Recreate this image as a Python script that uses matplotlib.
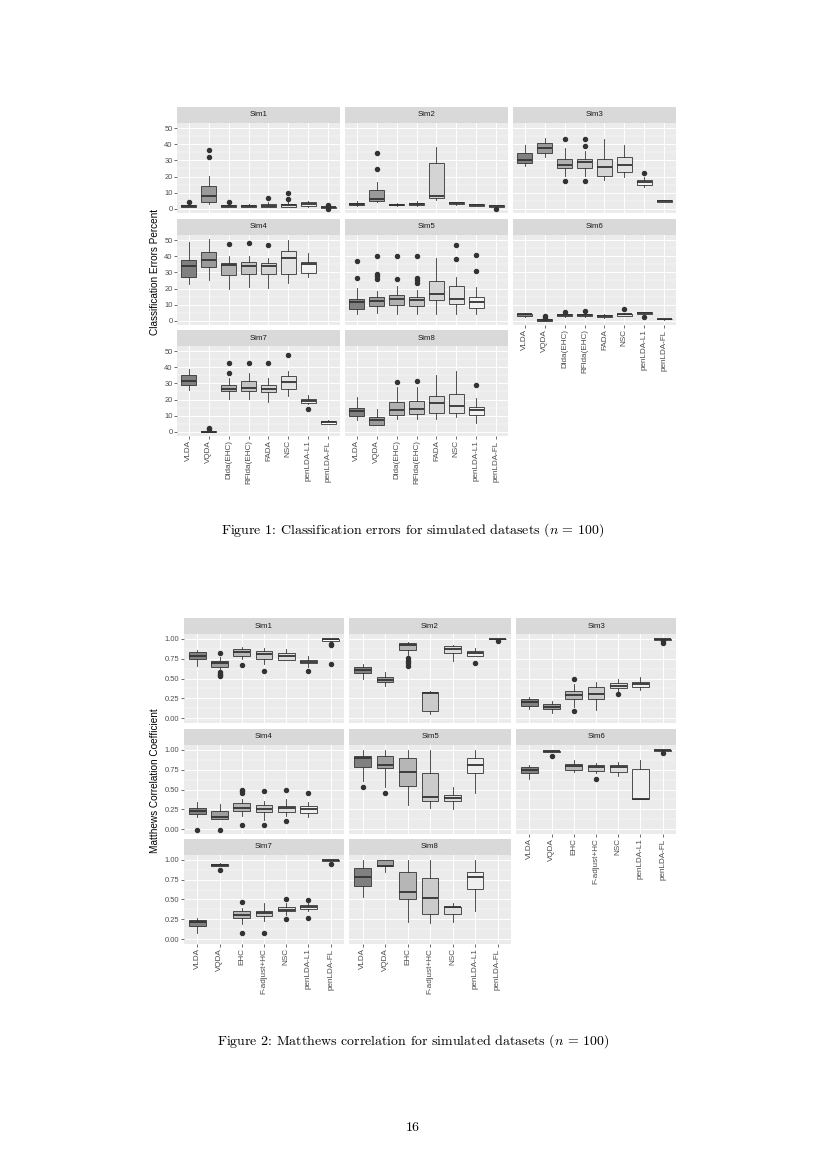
import matplotlib
matplotlib.use("Agg")
import matplotlib.pyplot as plt
import numpy as np

W, H = 827, 1169

# ---- Figure 1: classification errors (percent) ----
methods_err = ["VLDA", "VQDA", "Dlda(EHC)", "RFlda(EHC)", "FADA", "NSC", "penLDA-L1", "penLDA-FL"]

# (whisker low, q1, median, q3, whisker high) per method; None = not run
err_sim1 = [(1, 1.3, 2, 2.5, 3.5), (3.1, 4.2, 7.7, 14, 20.2), (1, 1.2, 1.6, 2.3, 3.2), (1, 1.2, 1.8, 2.3, 3.2),
            (1, 1.2, 2, 3, 4), (1, 1.3, 2.3, 3.1, 4.5), (1, 1.9, 3, 4, 4.8), (0.4, 0.5, 1, 1.4, 1.6)]
err_sim1_out = [[4.5], [32.3, 36.3], [4.6], [], [6.7], [6, 9.8], [], [0.0, 2.2]]
err_sim2 = [(2, 2.3, 3, 3.5, 5), (4.4, 5, 6.2, 11.5, 16.5), (2, 2.2, 2.7, 3.3, 3.8), (2, 2.2, 2.8, 3.4, 5.2),
            (5.6, 6.7, 8.3, 28.5, 38.5), (2.5, 2.8, 3.5, 4.2, 4.6), (1.8, 2.0, 2.5, 3.0, 3.2), (1.2, 1.5, 2, 2.3, 2.5)]
err_sim2_out = [[], [24.6, 34.6], [], [], [], [], [], [0.2]]
err_sim3 = [(26.5, 28.6, 30, 34.8, 39.6), (32.3, 34.8, 37.5, 40.8, 43.7), (20.2, 25, 27.3, 30.6, 37.7),
            (20.2, 25, 29, 30.6, 36), (17.7, 20.4, 25.8, 31, 43.5), (20, 23, 27.3, 32, 39.4),
            (13.5, 14.8, 16.7, 18.1, 20), (4.2, 4.5, 5, 5.5, 5.8)]
err_sim3_out = [[], [], [43.3, 17.5], [43.3, 39, 17.5], [], [], [22.5], []]
err_sim4 = [(22.7, 26.9, 33.75, 37.5, 48.75), (25.4, 33.3, 37.9, 42.5, 50.8), (19.6, 28.5, 34.4, 35.8, 40),
            (21.25, 29.2, 33.75, 36.5, 40), (20.2, 29.2, 34.2, 35.8, 39), (23.75, 29.2, 39, 43.5, 49.8),
            (27, 29.6, 35.2, 36.25, 42), None]
err_sim4_out = [[], [], [47.3], [47.9], [46.7], [], [], []]
err_sim5 = [(4, 7.3, 11.5, 13.3, 20.2), (5, 9.2, 12.5, 14.6, 18.5), (4.2, 9.6, 13.5, 16, 21.7),
            (4.2, 9.4, 12.7, 15, 19.2), (4.2, 12.9, 16.7, 24.4, 39), (4.2, 10.2, 13.5, 21.7, 26.9),
            (4.2, 7.7, 11.9, 15, 20.8), None]
err_sim5_out = [[26.25, 37.3], [26, 28, 29.2, 40], [26, 40], [23.75, 25, 26.7, 40.4], [], [38.3, 46.9],
                [30.6, 40.6], []]
err_sim6 = [(2.7, 3.2, 4, 4.6, 5), (0, 0.2, 0.5, 1.2, 1.5), (2.4, 2.8, 3.5, 4.0, 4.5), (2.4, 2.8, 3.5, 4.0, 4.6),
            (2.1, 2.4, 3.1, 3.8, 4.2), (2.8, 3.1, 4, 4.6, 5.2), (3.9, 4.3, 5.1, 5.3, 5.6), (0.8, 0.9, 1.1, 1.4, 1.5)]
err_sim6_out = [[], [1.8, 2.9], [5.4], [6.25], [], [7.5], [2.5], []]
err_sim7 = [(26, 29.2, 31.7, 35, 39), (0, 0, 0.2, 0.8, 1.2), (20.2, 25, 26.7, 29.2, 33.3),
            (20.2, 25, 27.1, 31.7, 36.5), (18.75, 24.4, 26.7, 29.2, 33.3), (22.5, 26.7, 30.8, 34.8, 37.5),
            (17.3, 17.9, 19.2, 20.4, 23.1), (4.8, 5.2, 6, 6.7, 7.3)]
err_sim7_out = [[], [1.9, 2.5], [36.5, 42.3], [42.3], [42.3], [47.5], [14.4], []]
err_sim8 = [(7.3, 10, 12.9, 14.6, 21.5), (4, 4.4, 7.1, 9.2, 14), (7.7, 10.6, 13.75, 18.5, 27.5),
            (7.9, 11.25, 14.2, 19, 27.5), (8.3, 11.7, 17.7, 22.3, 35), (9, 11.9, 16, 23.5, 37.5),
            (5.6, 10.6, 13.5, 15.6, 20.8), None]
err_sim8_out = [[], [], [31], [31.7], [], [], [29.2], []]

# ---- Figure 2: Matthews correlation coefficient ----
methods_mcc = ["VLDA", "VQDA", "EHC", "F-adjust+HC", "NSC", "penLDA-L1", "penLDA-FL"]

mcc_sim1 = [(0.66, 0.75, 0.79, 0.83, 0.865), (0.62, 0.65, 0.69, 0.72, 0.77), (0.75, 0.78, 0.83, 0.87, 0.9),
            (0.68, 0.75, 0.81, 0.85, 0.89), (0.73, 0.74, 0.79, 0.82, 0.87), (0.64, 0.69, 0.715, 0.74, 0.79),
            (0.95, 0.98, 0.995, 1.0, 1.0)]
mcc_sim1_out = [[], [0.82, 0.58, 0.56, 0.54, 0.53], [0.665], [0.6], [], [0.6], [0.94, 0.92, 0.68]]
mcc_sim2 = [(0.5, 0.57, 0.61, 0.65, 0.68), (0.4, 0.45, 0.485, 0.515, 0.58), (0.8, 0.86, 0.92, 0.95, 0.96),
            (0.05, 0.09, 0.32, 0.335, 0.345), (0.72, 0.82, 0.87, 0.91, 0.93), (0.78, 0.79, 0.82, 0.85, 0.89),
            (0.99, 0.995, 1.0, 1.0, 1.0)]
mcc_sim2_out = [[], [], [0.76, 0.72, 0.69, 0.66], [], [], [0.7], [0.975]]
mcc_sim3 = [(0.11, 0.156, 0.2, 0.24, 0.27), (0.06, 0.114, 0.14, 0.177, 0.21), (0.14, 0.24, 0.29, 0.34, 0.43),
            (0.1, 0.24, 0.31, 0.39, 0.46), (0.33, 0.376, 0.405, 0.44, 0.5), (0.355, 0.39, 0.43, 0.46, 0.515),
            (0.985, 0.99, 1.0, 1.0, 1.0)]
mcc_sim3_out = [[], [], [0.49, 0.09], [], [0.3], [], [0.97, 0.955]]
mcc_sim4 = [(0.15, 0.19, 0.23, 0.27, 0.34), (0.13, 0.13, 0.15, 0.23, 0.32), (0.17, 0.23, 0.27, 0.33, 0.38),
            (0.12, 0.22, 0.25, 0.3, 0.36), (0.16, 0.22, 0.26, 0.29, 0.38), (0.15, 0.2, 0.25, 0.29, 0.34), None]
mcc_sim4_out = [[-0.01], [-0.01], [0.5, 0.475, 0.455, 0.05], [0.475, 0.05], [0.49, 0.1], [0.46], []]
mcc_sim5 = [(0.61, 0.78, 0.9, 0.92, 1.0), (0.53, 0.77, 0.81, 0.92, 1.0), (0.31, 0.54, 0.72, 0.9, 1.0),
            (0.27, 0.36, 0.41, 0.71, 1.0), (0.25, 0.35, 0.39, 0.43, 0.53), (0.45, 0.71, 0.81, 0.9, 1.0), None]
mcc_sim5_out = [[0.53], [0.45], [], [], [], [], []]
mcc_sim6 = [(0.63, 0.71, 0.75, 0.78, 0.81), (0.97, 0.975, 0.99, 0.99, 1.0), (0.72, 0.75, 0.8, 0.82, 0.875),
            (0.71, 0.74, 0.79, 0.81, 0.84), (0.675, 0.725, 0.79, 0.81, 0.85), (0.38, 0.38, 0.38, 0.76, 0.87),
            (0.985, 0.99, 1.0, 1.0, 1.0)]
mcc_sim6_out = [[], [0.93], [], [0.63], [], [], [0.96]]
mcc_sim7 = [(0.08, 0.16, 0.21, 0.24, 0.26), (0.92, 0.92, 0.935, 0.945, 0.96), (0.19, 0.27, 0.3, 0.35, 0.39),
            (0.23, 0.29, 0.33, 0.36, 0.45), (0.31, 0.35, 0.37, 0.4, 0.45), (0.36, 0.38, 0.41, 0.43, 0.45),
            (0.985, 0.985, 0.995, 1.0, 1.0)]
mcc_sim7_out = [[], [0.87], [0.47, 0.08], [0.08], [0.5, 0.25], [0.49, 0.27], [0.955]]
mcc_sim8 = [(0.53, 0.67, 0.78, 0.9, 1.0), (0.85, 0.92, 0.92, 1.0, 1.0), (0.22, 0.5, 0.6, 0.85, 1.0),
            (0.2, 0.32, 0.52, 0.77, 1.0), (0.22, 0.32, 0.4, 0.41, 0.45), (0.36, 0.63, 0.78, 0.85, 1.0), None]
mcc_sim8_out = [[], [], [], [], [], [], []]

sim_names = ["Sim1", "Sim2", "Sim3", "Sim4", "Sim5", "Sim6", "Sim7", "Sim8"]
err_panels = [(err_sim1, err_sim1_out), (err_sim2, err_sim2_out), (err_sim3, err_sim3_out),
              (err_sim4, err_sim4_out), (err_sim5, err_sim5_out), (err_sim6, err_sim6_out),
              (err_sim7, err_sim7_out), (err_sim8, err_sim8_out)]
mcc_panels = [(mcc_sim1, mcc_sim1_out), (mcc_sim2, mcc_sim2_out), (mcc_sim3, mcc_sim3_out),
              (mcc_sim4, mcc_sim4_out), (mcc_sim5, mcc_sim5_out), (mcc_sim6, mcc_sim6_out),
              (mcc_sim7, mcc_sim7_out), (mcc_sim8, mcc_sim8_out)]

SANS = ["Liberation Sans", "DejaVu Sans"]
plt.rcParams["mathtext.fontset"] = "cm"


def grey_levels(n, start=0.5, end=1.0, gamma=2.2):
    # same ramp as R's grey.colors()
    t = np.linspace(start ** gamma, end ** gamma, n) ** (1 / gamma)
    return [str(round(float(v), 3)) for v in t]


def px_axes(fig, x0, y0, x1, y1):
    return fig.add_axes([x0 / W, 1 - y1 / H, (x1 - x0) / W, (y1 - y0) / H])


def draw_panel(ax, stats, outs, methods, ylim, yticks, yminor, fmt, show_x, show_y):
    fills = grey_levels(len(methods))
    bstats, pos, cols = [], [], []
    for i, (st, out) in enumerate(zip(stats, outs)):
        if st is None:
            continue
        lo, q1, med, q3, hi = st
        bstats.append(dict(whislo=lo, q1=q1, med=med, q3=q3, whishi=hi, fliers=out))
        pos.append(i + 1)
        cols.append(fills[i])
    bp = ax.bxp(bstats, positions=pos, widths=0.75, patch_artist=True, showcaps=False,
                manage_ticks=False,
                boxprops=dict(edgecolor="#333333", lw=0.6),
                whiskerprops=dict(color="#333333", lw=0.6),
                medianprops=dict(color="#333333", lw=1.3, solid_capstyle="butt"),
                flierprops=dict(marker="o", markersize=2.9, markerfacecolor="#333333",
                                markeredgecolor="#333333", lw=0))
    for patch, c in zip(bp["boxes"], cols):
        patch.set_facecolor(c)

    ax.set_facecolor("#EBEBEB")
    for s in ax.spines.values():
        s.set_visible(False)
    ax.set_xlim(0.4, len(methods) + 0.6)
    ax.set_ylim(*ylim)
    ax.set_yticks(yticks)
    ax.set_yticks(yminor, minor=True)
    ax.set_xticks(range(1, len(methods) + 1))
    ax.grid(True, which="major", color="white", lw=0.7)
    ax.grid(True, which="minor", axis="y", color="white", lw=0.35)
    ax.set_axisbelow(True)
    ax.tick_params(which="minor", length=0)
    ax.tick_params(which="major", length=2, width=0.5, color="#333333", labelsize=5.4,
                   labelcolor="#4D4D4D", pad=1.2)
    if show_y:
        ax.set_yticklabels([fmt.format(v) for v in yticks], fontfamily=SANS)
    else:
        ax.tick_params(axis="y", length=0, labelleft=False)
    if show_x:
        ax.set_xticklabels(methods, rotation=90, fontfamily=SANS, fontsize=5.9)
    else:
        ax.tick_params(axis="x", length=0, labelbottom=False)


def draw_facets(fig, panels, methods, col_x, panel_tops, ph, ylim, yticks, yminor, fmt, ylabel, ylabel_x):
    strip_h = 16
    for k, (stats, outs) in enumerate(panels):
        r, c = divmod(k, 3)
        x0, x1 = col_x[c]
        top = panel_tops[r]
        ax = px_axes(fig, x0, top, x1, top + ph)
        show_x = k >= 5
        draw_panel(ax, stats, outs, methods, ylim, yticks, yminor, fmt, show_x, c == 0)
        sax = px_axes(fig, x0, top - strip_h, x1, top)
        sax.set_facecolor("#D9D9D9")
        sax.set_xticks([])
        sax.set_yticks([])
        for s in sax.spines.values():
            s.set_visible(False)
        sax.text(0.5, 0.5, sim_names[k], ha="center", va="center", fontsize=5.6,
                 color="#1A1A1A", fontfamily=SANS, transform=sax.transAxes)
    ymid = (panel_tops[0] - strip_h + panel_tops[2] + ph) / 2
    fig.text(ylabel_x / W, 1 - ymid / H, ylabel, rotation=90, ha="center", va="center",
             fontsize=7.2, fontfamily=SANS)


fig = plt.figure(figsize=(W / 100, H / 100), dpi=100)

draw_facets(fig, err_panels, methods_err,
            col_x=[(177, 340), (345, 508), (513, 676)], panel_tops=[123, 235, 346], ph=90,
            ylim=(-2.5, 53.1), yticks=[0, 10, 20, 30, 40, 50], yminor=[5, 15, 25, 35, 45],
            fmt="{:g}", ylabel="Classification Errors Percent", ylabel_x=155)

draw_facets(fig, mcc_panels, methods_mcc,
            col_x=[(184, 344), (349, 511), (516, 676)], panel_tops=[634, 745, 855], ph=89,
            ylim=(-0.063, 1.063), yticks=[0, 0.25, 0.5, 0.75, 1.0],
            yminor=[0.125, 0.375, 0.625, 0.875], fmt="{:.2f}",
            ylabel="Matthews Correlation Coefficient", ylabel_x=155)

cap = dict(ha="center", va="center", fontsize=10, fontfamily="cmr10")
fig.text(413 / W, 1 - 530 / H, "Figure 1: Classification errors for simulated datasets ($n$ = 100)", **cap)
fig.text(413 / W, 1 - 1041 / H, "Figure 2: Matthews correlation for simulated datasets ($n$ = 100)", **cap)
fig.text(413 / W, 1 - 1128 / H, "16", **cap)

fig.savefig("out.png", dpi=100, facecolor="white")
